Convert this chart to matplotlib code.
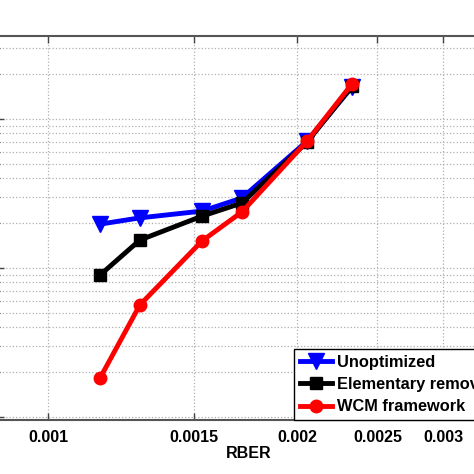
import matplotlib
matplotlib.use("Agg")
import matplotlib.pyplot as plt
import matplotlib.ticker as mticker

plt.rcParams['font.family'] = ['Liberation Sans', 'DejaVu Sans']
plt.rcParams['font.weight'] = 'bold'

rber = [0.001156, 0.001291, 0.001535, 0.001715, 0.002055, 0.002329]
unoptimized = [1.97e-5, 2.17e-5, 2.41e-5, 2.95e-5, 7.1e-5, 1.64e-4]
elementary = [8.98e-6, 1.54e-5, 2.23e-5, 2.73e-5, 7.0e-5, 1.66e-4]
wcm = [1.83e-6, 5.65e-6, 1.52e-5, 2.38e-5, 7.1e-5, 1.72e-4]

xticks = [0.001, 0.0015, 0.002, 0.0025, 0.003]
xticklabels = ['0.001', '0.0015', '0.002', '0.0025', '0.003']
labels = ['Unoptimized', 'Elementary removal', 'WCM framework']

fig = plt.figure(figsize=(4.74, 4.74), dpi=100)
# the axes runs past the left and right edges of the picture,
# so the y tick labels are out of view as in the original crop
ax = fig.add_axes([-3 / 474, 54 / 474, 503 / 474, 384 / 474])

ax.plot(rber, unoptimized, color='#0000ff', lw=3.5, marker='v', ms=11, label=labels[0])
ax.plot(rber, elementary, color='black', lw=3.5, marker='s', ms=8, label=labels[1])
ax.plot(rber, wcm, color='#ff0000', lw=3.5, marker='o', ms=9, label=labels[2])

ax.set_xscale('log')
ax.set_yscale('log')
ax.set_xlim(10 ** -3.0616, 10 ** -2.4541)
ax.set_ylim(10 ** -6.0201, 10 ** -3.443)

ax.xaxis.set_major_locator(mticker.FixedLocator(xticks))
ax.xaxis.set_major_formatter(mticker.FixedFormatter(xticklabels))
ax.xaxis.set_minor_locator(mticker.NullLocator())
ax.yaxis.set_minor_locator(mticker.LogLocator(base=10, subs=range(2, 10)))

ax.tick_params(axis='both', which='both', direction='in', top=True, right=True,
               colors='#444444', labelcolor='black', labelsize=11.5)
ax.tick_params(axis='both', which='major', length=5, width=1, pad=7)
ax.tick_params(axis='y', which='minor', length=2)
ax.tick_params(axis='y', labelleft=False)

ax.grid(True, which='major', axis='x', linestyle=':', color='#b0b0b0', lw=0.9)
ax.grid(True, which='both', axis='y', linestyle=':', color='#b0b0b0', lw=0.9)

for s in ax.spines.values():
    s.set_color('#555555')
    s.set_linewidth(1.5)

ax.set_xlabel('RBER', fontsize=11.5, fontweight='bold', labelpad=1)

leg = ax.legend(loc='lower left', bbox_to_anchor=(0.590, 0.0), borderaxespad=0,
                prop={'weight': 'bold', 'size': 11.8}, fancybox=False, framealpha=1,
                edgecolor='black', handlelength=2.0, handletextpad=0.3,
                labelspacing=0.45, borderpad=0.35)
leg.get_frame().set_linewidth(1.0)

fig.savefig('out.png', dpi=100)
